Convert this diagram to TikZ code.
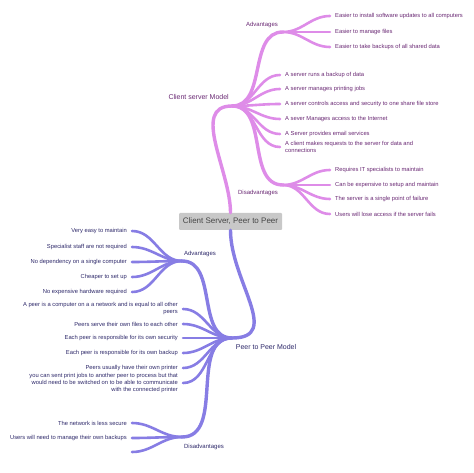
\documentclass[tikz,border=0pt]{standalone}
\usepackage{fontspec}
\setmainfont{Liberation Sans}
\usetikzlibrary{positioning}
\definecolor{cspink}{RGB}{222,140,232}
\definecolor{cstext}{RGB}{105,40,115}
\definecolor{ppblue}{RGB}{135,125,228}
\definecolor{pptext}{RGB}{45,40,105}
\definecolor{rootgray}{RGB}{200,200,200}
\definecolor{roottext}{RGB}{70,70,70}

\begin{document}
\begin{tikzpicture}[
  x=1pt,y=1pt,
  every node/.style={inner sep=0pt},
  root/.style={fill=rootgray,text=roottext,font=\fontsize{8}{9.6}\selectfont,rounded corners=1pt,minimum width=103pt,minimum height=17pt},
  cstopic/.style={text=cstext,font=\fontsize{7}{8.4}\selectfont},
  pptopic/.style={text=pptext,font=\fontsize{7}{8.4}\selectfont},
  cssub/.style={text=cstext,font=\fontsize{6}{7.2}\selectfont},
  ppsub/.style={text=pptext,font=\fontsize{6}{7.2}\selectfont},
  csleaf/.style={text=cstext,font=\fontsize{5.8}{7}\selectfont,anchor=west,align=left,inner xsep=5pt},
  ppleaf/.style={text=pptext,font=\fontsize{5.8}{7}\selectfont,anchor=east,align=right,inner xsep=5pt},
  csbranch/.style={draw=cspink,line width=3.4pt,line cap=round},
  cstwig/.style={draw=cspink,line width=2.6pt,line cap=round},
  ppbranch/.style={draw=ppblue,line width=3.4pt,line cap=round},
  pptwig/.style={draw=ppblue,line width=2.6pt,line cap=round}
]
\useasboundingbox (0,0) rectangle (474,-473);

% root
\node[root] (central) at (230.5,-221.5) {Client Server, Peer to Peer};

% client server side
\coordinate (cshub) at (232,-106);
\coordinate (csadvhub) at (283,-32);
\coordinate (csdishub) at (283,-185);
\node[cstopic,anchor=east] (cslabel) at (229,-97) {Client server Model};
\node[cssub] (csadvlabel) at (262,-25) {Advantages};
\node[cssub] (csdislabel) at (258,-193) {Disadvantages};

\node[csleaf] (csadv1) at (330,-16) {Easier to install software updates to all computers};
\node[csleaf] (csadv2) at (330,-32) {Easier to manage files};
\node[csleaf] (csadv3) at (330,-47) {Easier to take backups of all shared data};

\node[csleaf] (cs1) at (280,-75) {A server runs a backup of data};
\node[csleaf] (cs2) at (280,-89) {A server manages printing jobs};
\node[csleaf] (cs3) at (280,-104) {A server controls access and security to one share file store};
\node[csleaf] (cs4) at (280,-119) {A sever Manages access to the Internet};
\node[csleaf] (cs5) at (280,-134) {A Server provides email services};
\node[csleaf] (cs6) at (280,-147) {A client makes requests to the server for data and\\connections};

\node[csleaf] (csdis1) at (330,-170) {Requires IT specialists to maintain};
\node[csleaf] (csdis2) at (330,-185) {Can be expensive to setup and maintain};
\node[csleaf] (csdis3) at (330,-199) {The server is a single point of failure};
\node[csleaf] (csdis4) at (330,-214) {Users will lose access if the server fails};

% peer to peer side
\coordinate (pphub) at (232,-338);
\coordinate (ppadvhub) at (182,-261);
\coordinate (ppdishub) at (182,-437);
\node[pptopic] (pplabel) at (266,-347) {Peer to Peer Model};
\node[ppsub] (ppadvlabel) at (200,-254) {Advantages};
\node[ppsub] (ppdislabel) at (204,-447) {Disadvantages};

\node[ppleaf] (ppadv1) at (132,-231) {Very easy to maintain};
\node[ppleaf] (ppadv2) at (132,-247) {Specialist staff are not required};
\node[ppleaf] (ppadv3) at (132,-262) {No dependency on a single computer};
\node[ppleaf] (ppadv4) at (132,-277) {Cheaper to set up};
\node[ppleaf] (ppadv5) at (132,-292) {No expensive hardware required};

\node[ppleaf] (pp1) at (183,-309) {A peer is a computer on a a network and is equal to all other\\peers};
\node[ppleaf] (pp2) at (183,-324) {Peers serve their own files to each other};
\node[ppleaf] (pp3) at (183,-338) {Each peer is responsible for its own security};
\node[ppleaf] (pp4) at (183,-353) {Each peer is responsible for its own backup};
\node[ppleaf] (pp5) at (183,-368) {Peers usually have their own printer};
\node[ppleaf] (pp6) at (183,-383) {you can sent print jobs to another peer to process but that\\would need to be switched on to be able to communicate\\with the connected printer};

\node[ppleaf] (ppdis1) at (132,-423) {The network is less secure};
\node[ppleaf] (ppdis2) at (132,-438) {Users will need to manage their own backups};
\coordinate (ppdis3) at (132,-452);

% client server branches
\draw[csbranch] (central.north) to[out=90,in=180] (cshub);
\draw[csbranch] (cshub) to[out=0,in=180] (csadvhub);
\draw[csbranch] (cshub) to[out=0,in=180] (csdishub);
\draw[cstwig] (csadvhub) to[out=0,in=180] (csadv1.west);
\draw[cstwig] (csadvhub) to[out=0,in=180] (csadv2.west);
\draw[cstwig] (csadvhub) to[out=0,in=180] (csadv3.west);
\draw[cstwig] (cshub) to[out=0,in=180] (cs1.west);
\draw[cstwig] (cshub) to[out=0,in=180] (cs2.west);
\draw[cstwig] (cshub) to[out=0,in=180] (cs3.west);
\draw[cstwig] (cshub) to[out=0,in=180] (cs4.west);
\draw[cstwig] (cshub) to[out=0,in=180] (cs5.west);
\draw[cstwig] (cshub) to[out=0,in=180] (cs6.west);
\draw[cstwig] (csdishub) to[out=0,in=180] (csdis1.west);
\draw[cstwig] (csdishub) to[out=0,in=180] (csdis2.west);
\draw[cstwig] (csdishub) to[out=0,in=180] (csdis3.west);
\draw[cstwig] (csdishub) to[out=0,in=180] (csdis4.west);

% peer to peer branches
\draw[ppbranch] (central.south) to[out=-90,in=0,looseness=1.2] (pphub);
\draw[ppbranch] (pphub) to[out=180,in=0] (ppadvhub);
\draw[ppbranch] (pphub) to[out=180,in=0] (ppdishub);
\draw[pptwig] (ppadvhub) to[out=180,in=0] (ppadv1.east);
\draw[pptwig] (ppadvhub) to[out=180,in=0] (ppadv2.east);
\draw[pptwig] (ppadvhub) to[out=180,in=0] (ppadv3.east);
\draw[pptwig] (ppadvhub) to[out=180,in=0] (ppadv4.east);
\draw[pptwig] (ppadvhub) to[out=180,in=0] (ppadv5.east);
\draw[pptwig] (pphub) to[out=180,in=0] (pp1.east);
\draw[pptwig] (pphub) to[out=180,in=0] (pp2.east);
\draw[pptwig] (pphub) to[out=180,in=0] (pp3.east);
\draw[pptwig] (pphub) to[out=180,in=0] (pp4.east);
\draw[pptwig] (pphub) to[out=180,in=0] (pp5.east);
\draw[pptwig] (pphub) to[out=180,in=0] (pp6.east);
\draw[pptwig] (ppdishub) to[out=180,in=0] (ppdis1.east);
\draw[pptwig] (ppdishub) to[out=180,in=0] (ppdis2.east);
\draw[pptwig] (ppdishub) to[out=180,in=0] (ppdis3);
\end{tikzpicture}
\end{document}
